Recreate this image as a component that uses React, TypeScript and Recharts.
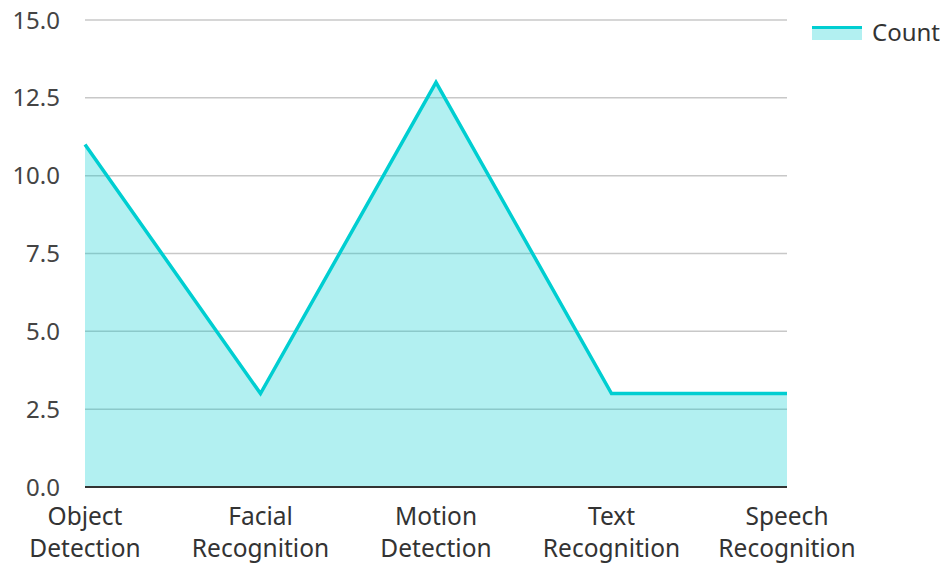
import React from 'react';
import { AreaChart, Area, XAxis, YAxis, CartesianGrid } from 'recharts';

const categories = ['Object Detection', 'Facial Recognition', 'Motion Detection', 'Text Recognition', 'Speech Recognition'];
const counts = [11, 3, 13, 3, 3];
const yTicks = [0, 2.5, 5, 7.5, 10, 12.5, 15];

const data = categories.map((name, i) => ({ name, Count: counts[i] }));

const FONT = '"Noto Sans", "Open Sans", sans-serif';
const TEAL = '#00CED1';

const CategoryTick = ({ x, y, payload }: any) => {
  const words = String(payload.value).split(' ');
  return (
    <text x={x} y={y} textAnchor="middle" fill="#333" fontSize={24.5} fontFamily={FONT}>
      {words.map((w: string, i: number) => (
        <tspan key={i} x={x} dy={i === 0 ? 30 : 32}>{w}</tspan>
      ))}
    </text>
  );
};

// legend drawn as an overlay so it doesn't shrink the plot area
const LegendBox = () => (
  <div style={{ position: 'absolute', left: 812, top: 16, display: 'flex', alignItems: 'center', fontFamily: FONT, fontSize: 24, color: '#333', lineHeight: '32px' }}>
    <svg width={50} height={16} style={{ marginRight: 10 }}>
      <rect x={0} y={3} width={50} height={13} fill={TEAL} fillOpacity={0.3} />
      <rect x={0} y={2} width={50} height={3} fill={TEAL} />
    </svg>
    <span>Count</span>
  </div>
);

export default function App() {
  return (
    <div style={{ position: 'absolute', left: 0, top: 0, width: 945, height: 563 }}>
      <AreaChart width={945} height={563} data={data} margin={{ top: 20, right: 158, left: 0, bottom: 0 }}>
        <CartesianGrid vertical={false} stroke="#c8c8c8" strokeWidth={1.5} />
        <XAxis
          dataKey="name"
          height={76}
          tick={<CategoryTick />}
          tickLine={false}
          axisLine={{ stroke: '#333', strokeWidth: 2 }}
          interval={0}
        />
        <YAxis
          width={85}
          domain={[0, 15]}
          ticks={yTicks}
          tickFormatter={(v: number) => v.toFixed(1)}
          tick={{ fontSize: 24, fill: '#444', fontFamily: FONT }}
          tickLine={false}
          tickMargin={19}
          axisLine={false}
        />
        <Area
          type="linear"
          dataKey="Count"
          stroke={TEAL}
          strokeWidth={3.5}
          fill={TEAL}
          fillOpacity={0.3}
          isAnimationActive={false}
          dot={false}
          activeDot={false}
        />
      </AreaChart>
      <LegendBox />
    </div>
  );
}
